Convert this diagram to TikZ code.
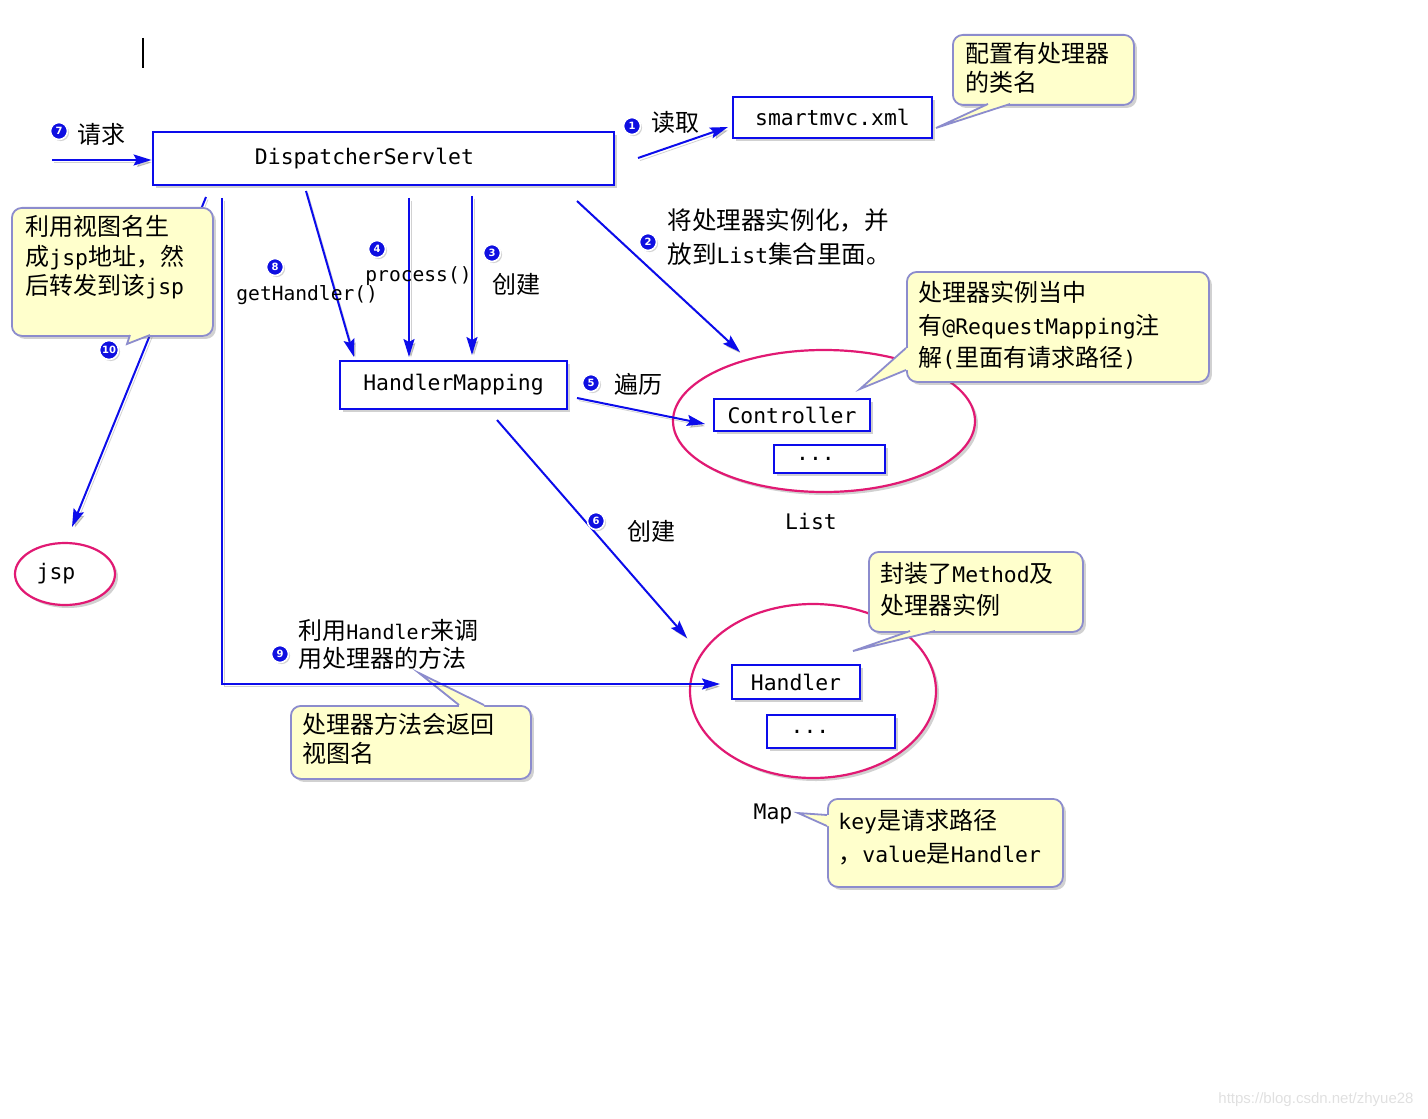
\documentclass[tikz,border=0pt]{standalone}
\usepackage{fontspec}
\setmainfont{Noto Sans CJK SC}
\newfontfamily\monof{DejaVu Sans Mono}
\newfontfamily\numf{DejaVu Sans}
\newfontfamily\wmf{Liberation Sans}
\usetikzlibrary{arrows.meta,shadows,shapes.geometric}
\newcommand\mtt[1]{{\monof\fontsize{10.7}{12}\selectfont #1}}
\definecolor{lb}{RGB}{12,12,235}
\definecolor{ec}{RGB}{225,25,115}
\definecolor{cf}{RGB}{255,255,204}
\definecolor{cd}{RGB}{140,140,205}
\definecolor{nb}{RGB}{15,15,225}
\tikzset{
 shd/.style={drop shadow={shadow xshift=1.5pt,shadow yshift=-1.5pt,opacity=0.3,fill=black!60}},
 bx/.style={draw=lb, line width=1.4pt, fill=white, shd, inner sep=0pt, font=\monof\fontsize{10.7}{12}\selectfont},
 ell/.style={ellipse, draw=ec, line width=1.1pt, fill=white, shd, inner sep=0pt},
 lsh/.style={preaction={draw=black, opacity=0.18, transform canvas={shift={(1pt,-1.3pt)}}}},
 ln/.style={draw=lb, line width=1pt, lsh},
 arr/.style={ln, -{Stealth[length=9pt,width=5.5pt,inset=1.5pt]}},
 cbox/.style={draw=cd, line width=0.9pt, fill=cf, rounded corners=5pt, anchor=north west, shd, inner sep=0pt},
 cline/.style={draw=cd, line width=0.9pt, line join=miter},
 zh/.style={inner sep=0pt, anchor=west, align=left, font=\fontsize{12}{14.5}\selectfont},
 mo/.style={inner sep=0pt, font=\monof\fontsize{10.7}{12}\selectfont},
 num/.style={circle, fill=nb, draw=white, line width=0.8pt, text=white, inner sep=0pt, minimum size=8.5pt, font=\numf\bfseries\fontsize{5}{5}\selectfont, drop shadow={shadow xshift=0.8pt,shadow yshift=-0.8pt,opacity=0.35}},
}
\begin{document}
\begin{tikzpicture}[x=0.5pt,y=-0.5pt]
\useasboundingbox (0,0) rectangle (1428,1118);
% cursor mark
\draw[black, line width=0.6pt] (143,38) -- (143,68);

% ellipses (collections)
\node[ell, minimum width=151pt, minimum height=71pt] (lst) at (824,421) {};
\node[ell, minimum width=123pt, minimum height=87pt] (mp) at (813,691) {};
\node[ell, minimum width=50pt, minimum height=31pt, font=\monof\fontsize{10.7}{12}\selectfont] (jsp) at (65,574) {jsp\hspace*{9pt}};

% boxes
\node[bx, minimum width=230.5pt, minimum height=26.5pt] (ds) at (383.5,158.5) {DispatcherServlet\hspace*{19pt}};
\node[bx, minimum width=99.5pt, minimum height=20.5pt] (smx) at (832.5,117.5) {smartmvc.xml};
\node[bx, minimum width=113.5pt, minimum height=24pt] (hm) at (453.5,385) {HandlerMapping};
\node[bx, minimum width=78pt, minimum height=16pt] (ctl) at (792,415) {Controller};
\node[bx, minimum width=55.5pt, minimum height=14pt] (ld) at (829.5,459) {...\hspace*{14pt}};
\node[bx, minimum width=64pt, minimum height=17pt] (hd) at (796,682) {Handler};
\node[bx, minimum width=64pt, minimum height=16.5pt] (md) at (831,731.5) {...\hspace*{21pt}};

\node[mo] (lbl) at (811,522) {List};
\node[mo] (mpl) at (773,814) {Map};

% callout 5 (below the line 9)
\node[cbox, minimum width=120pt, minimum height=36.5pt] (c5) at (290,705) {};
\fill[cf] (459,708) -- (459,705) -- (419,673) -- (484,705) -- (484,708) -- cycle;
\draw[cline] (459,705) -- (419,673) -- (484,705);
\node[zh, font=\fontsize{12}{14.5}\selectfont] (c5t) at (302,738.5) {处理器方法会返回\\视图名};

% connector coordinates
\coordinate (p7s) at (52,160);
\coordinate (p1s) at (638,158); \coordinate (p1e) at (728,127);
\coordinate (p2s) at (577,201); \coordinate (p2e) at (740,352);
\coordinate (p10s) at (206,197); \coordinate (p10e) at (72,527);
\coordinate (p9s) at (222,198); \coordinate (p9e) at (720,684);
\coordinate (p8s) at (306,191); \coordinate (p8e) at (354,357);
\coordinate (p4s) at (409,198); \coordinate (p4e) at (409,357);
\coordinate (p3s) at (472,196); \coordinate (p3e) at (472,355);
\coordinate (p5s) at (577,398); \coordinate (p5e) at (705,424);
\coordinate (p6s) at (497,420); \coordinate (p6e) at (687,638);

\draw[arr] (p7s) -- (p7s -| ds.west);
\draw[arr] (p1s) -- (p1e);
\draw[arr] (p2s) -- (p2e);
\draw[arr] (p10s) -- (p10e);
\draw[arr] (p9s) |- (p9e);
\draw[arr] (p8s) -- (p8e);
\draw[arr] (p4s) -- (p4e);
\draw[arr] (p3s) -- (p3e);
\draw[arr] (p5s) -- (p5e);
\draw[arr] (p6s) -- (p6e);

% labels
\node[zh] (tq) at (77,134) {请求};
\node[zh] (td) at (651,122) {读取};
\node[zh, font=\fontsize{12.3}{17}\selectfont] (t2) at (667,237) {将处理器实例化，并\\放到\mtt{List}集合里面。};
\node[mo, anchor=west, font=\monof\fontsize{9.8}{12}\selectfont] (tgh) at (236,295) {getHandler()};
\node[mo, anchor=west, font=\monof\fontsize{9.8}{12}\selectfont] (tpr) at (365,276) {process()};
\node[zh] (tc3) at (492,284) {创建};
\node[zh] (tbl) at (614,384) {遍历};
\node[zh] (tc6) at (627,531) {创建};
\node[zh, font=\fontsize{12}{14}\selectfont] (t9) at (298,644) {利用{\monof\fontsize{10}{12}\selectfont Handler}来调\\用处理器的方法};

% callout 1
\node[cbox, minimum width=90.5pt, minimum height=35pt] (c1) at (952,34) {};
\fill[cf] (988,101) -- (988,104) -- (936,128) -- (1010,104) -- (1010,101) -- cycle;
\draw[cline] (988,104) -- (936,128) -- (1010,104);
\node[zh, font=\fontsize{12}{14.5}\selectfont] (c1t) at (965,67.5) {配置有处理器\\的类名};

% callout 2
\node[cbox, minimum width=100.5pt, minimum height=64pt] (c2) at (11,207) {};
\fill[cf] (130,332) -- (130,335) -- (127,344) -- (150,335) -- (150,332) -- cycle;
\draw[cline] (130,335) -- (127,344) -- (150,335);
\node[zh, font=\fontsize{12}{14.75}\selectfont] (c2t) at (25,257.5) {利用视图名生\\成\mtt{jsp}地址，然\\后转发到该\mtt{jsp}};

% callout 3
\node[cbox, minimum width=151pt, minimum height=55pt] (c3) at (906,271) {};
\fill[cf] (909,348) -- (906,348) -- (860,389) -- (906,370) -- (909,370) -- cycle;
\draw[cline] (906,348) -- (860,389) -- (906,370);
\node[zh, font=\fontsize{12}{16.25}\selectfont] (c3t) at (918,325.5) {处理器实例当中\\有\mtt{@RequestMapping}注\\解\mtt{(}里面有请求路径\mtt{)}};

% callout 4
\node[cbox, minimum width=107pt, minimum height=40pt] (c4) at (868,551) {};
\fill[cf] (910,628) -- (910,631) -- (853,651) -- (935,631) -- (935,628) -- cycle;
\draw[cline] (910,631) -- (853,651) -- (935,631);
\node[zh, font=\fontsize{12}{16}\selectfont] (c4t) at (880,589) {封装了\mtt{Method}及\\处理器实例};

% callout 6
\node[cbox, minimum width=117.5pt, minimum height=44pt] (c6) at (827,798) {};
\fill[cf] (830,815) -- (827,815) -- (798,813) -- (827,826) -- (830,826) -- cycle;
\draw[cline] (827,815) -- (798,813) -- (827,826);
\node[zh, font=\fontsize{12}{16.5}\selectfont] (c6t) at (838,837.5) {\mtt{key}是请求路径\\，\mtt{value}是\mtt{Handler}};

% step numbers
\node[num] (n7) at (59,131) {7};
\node[num] (n1) at (632,126) {1};
\node[num] (n2) at (648,242) {2};
\node[num] (n8) at (275,267) {8};
\node[num] (n4) at (377,249) {4};
\node[num] (n3) at (492,253) {3};
\node[num, minimum size=9.5pt] (n10) at (109,350) {10};
\node[num] (n5) at (591,383) {5};
\node[num] (n6) at (596,521) {6};
\node[num] (n9) at (280,654) {9};

% watermark
\node[font=\wmf\fontsize{7.5}{9}\selectfont, text=black!12, inner sep=0pt] (wm) at (1316,1100) {https://blog.csdn.net/zhyue28};
\end{tikzpicture}
\end{document}
